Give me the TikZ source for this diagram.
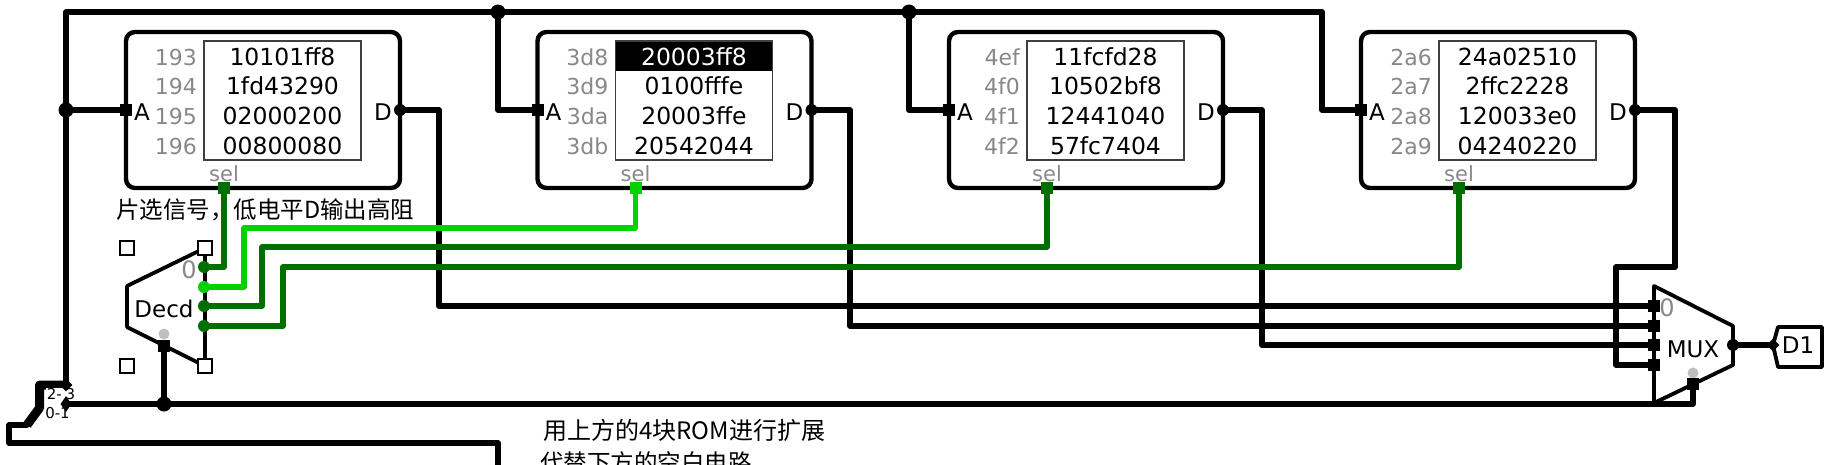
\documentclass[tikz,border=0pt]{standalone}
\usepackage{fontspec}
\setmainfont{DejaVu Sans}
\newfontfamily\cjk{Noto Sans CJK SC}
\usetikzlibrary{shapes.geometric}

\definecolor{lowgreen}{RGB}{0,110,0}
\definecolor{highgreen}{RGB}{0,210,0}
\definecolor{labelgray}{RGB}{136,136,136}

\tikzset{
    wire/.style={draw=black, line width=5.4pt, line join=round, line cap=round},
    fatwire/.style={draw=black, line width=9pt, line join=round},
    selwire/.style={line width=5.4pt, line join=round, line cap=round},
    gate/.style={draw=black, line width=3.8pt, line join=round},
    rombox/.style={draw=black, line width=4.4pt, rounded corners=9pt, outer sep=0pt, minimum width=274pt, minimum height=156pt, anchor=north west},
    membox/.style={draw=black!75, line width=1.4pt, fill=white, minimum width=157pt, minimum height=119pt},
    memval/.style={font=\fontsize{23.5}{25}\selectfont, anchor=base, inner sep=0pt},
    memhot/.style={memval, fill=black, text=white, minimum width=158pt, text height=24pt, text depth=6pt},
    addr/.style={font=\fontsize{22}{25}\selectfont, text=labelgray, anchor=base east, inner sep=0pt},
    pinname/.style={font=\fontsize{23}{25}\selectfont, anchor=base, inner sep=0pt},
    graylabel/.style={font=\fontsize{21}{25}\selectfont, text=labelgray, anchor=base, inner sep=0pt},
    note/.style={font=\cjk\fontsize{23.5}{25}\selectfont, anchor=west, inner sep=0pt},
    portsq/.style={fill, rectangle, inner sep=0pt, minimum size=12pt},
    dotj/.style={fill, circle, inner sep=0pt, minimum size=#1},
    dotj/.default=15pt,
    handle/.style={draw=black, line width=1.8pt, fill=white, rectangle, inner sep=0pt, minimum size=14pt},
    tick/.style={fill=black, diamond, inner sep=0pt, minimum size=13pt},
    small/.style={font=\fontsize{15}{16}\selectfont, inner sep=0pt},
}

\begin{document}
\begin{tikzpicture}[x=1pt, y=-1pt]
    \useasboundingbox (0,0) rectangle (1834,464);

    \foreach \n/\x/\selcol/\rows in {
        1/126/lowgreen/{193/10101ff8/memval,194/1fd43290/memval,195/02000200/memval,196/00800080/memval},
        2/537.5/highgreen/{3d8/20003ff8/memhot,3d9/0100fffe/memval,3da/20003ffe/memval,3db/20542044/memval},
        3/949/lowgreen/{4ef/11fcfd28/memval,4f0/10502bf8/memval,4f1/12441040/memval,4f2/57fc7404/memval},
        4/1361/lowgreen/{2a6/24a02510/memval,2a7/2ffc2228/memval,2a8/120033e0/memval,2a9/04240220/memval}} {
        \node[rombox] (rom\n) at (\x,32) {};
        \node[membox] (rom\n mem) at (\x+156.5,100.5) {};
        \foreach \addr/\val/\look [count=\i] in \rows {
            \node[addr] (rom\n addr\i) at (\x+71,35.3+29.7*\i) {\addr};
            \node[\look] (rom\n val\i) at (\x+156.5,35.3+29.7*\i) {\val};
        }
        \node[membox, fill=none] at (rom\n mem) {};
        \node[portsq] (rom\n A) at (\x,110) {};
        \node[pinname] (rom\n Atext) at (\x+16,120) {A};
        \node[dotj=12pt] (rom\n D) at (\x+274,110) {};
        \node[pinname] (rom\n Dtext) at (\x+257,120) {D};
        \node[graylabel] (rom\n seltext) at (\x+98,181) {sel};
        \node[portsq, fill=\selcol] (rom\n sel) at (\x+98,188) {};
    }

    \node[note] (selnote) at (116,210) {片选信号，低电平D输出高阻};
    \node[note, font=\cjk\fontsize{24}{25}\selectfont] (useline) at (543,430) {用上方的4块ROM进行扩展};
    \node[note] (subline) at (540,463) {代替下方的空白电路};

    \draw[gate] (205,248) -- (127,286) -- (127,327) -- (205,366) -- cycle;
    \node[handle] (decTL) at (127,248) {};
    \node[handle] (decTR) at (205,248) {};
    \node[handle] (decBL) at (127,366) {};
    \node[handle] (decBR) at (205,366) {};
    \node[pinname] (decd) at (164,317) {Decd};
    \node[graylabel, font=\fontsize{24}{25}\selectfont] (dec0) at (189,278) {0};
    \node[dotj=11pt, fill=black!25] (decen) at (164,334) {};
    \node[portsq] (decsel) at (164,346) {};
    \node[dotj=12pt, lowgreen] (out0) at (204,267) {};
    \node[dotj=12pt, highgreen] (out1) at (204,287) {};
    \node[dotj=12pt, lowgreen] (out2) at (204,306) {};
    \node[dotj=12pt, lowgreen] (out3) at (204,326) {};

    \draw[gate] (1654,286) -- (1733,326) -- (1733,365) -- (1654,403) -- cycle;
    \node[portsq] (mux0) at (1654,306) {};
    \node[portsq] (mux1) at (1654,326) {};
    \node[portsq] (mux2) at (1654,345) {};
    \node[portsq] (mux3) at (1654,365) {};
    \node[graylabel, font=\fontsize{24}{25}\selectfont] (mux0text) at (1667,316) {0};
    \node[pinname] (muxname) at (1693,357) {MUX};
    \node[dotj=11pt, fill=black!25] (muxen) at (1693,373) {};
    \node[portsq] (muxsel) at (1693,384) {};
    \node[dotj=12pt] (muxout) at (1733,345) {};

    \draw[gate] (1773,345) -- (1778,327) -- (1822,327) -- (1822,367) -- (1778,367) -- cycle;
    \node[pinname] (d1name) at (1798,353) {D1};
    \node[tick] (pinD1) at (1773,345) {};

    \node[dotj] (jbus) at (66,110) {};
    \node[dotj] (jtopB) at (498,12) {};
    \node[dotj] (jtopC) at (909,12) {};
    \node[dotj] (jsel) at (164,404) {};
    \coordinate (splA) at (66,385);
    \coordinate (splB) at (66,404);
    \coordinate (tail) at (27,425);
    \coordinate (offpage) at (498,470);

    \draw[wire] (splA) -- (66,12) -- (1322,12) |- (rom4A.center);
    \draw[wire] (jbus.center) -- (rom1A.center);
    \draw[wire] (jtopB.center) |- (rom2A.center);
    \draw[wire] (jtopC.center) |- (rom3A.center);

    \draw[wire] (rom1D.center) -| (439,306) -- (mux0.center);
    \draw[wire] (rom2D.center) -| (850,326) -- (mux1.center);
    \draw[wire] (rom3D.center) -| (1262,345) -- (mux2.center);
    \draw[wire] (rom4D.center) -| (1675,267) -| (1616,365) -- (mux3.center);
    \draw[wire] (muxout.center) -- (pinD1.center);

    \draw[wire] (splB) -| (muxsel.center);
    \draw[wire] (decsel.center) -- (jsel.center);

    \draw[selwire, lowgreen] (out0.center) -| (rom1sel.center);
    \draw[selwire, highgreen] (out1.center) -- (244,287) |- (rom2sel.center |- 0,228) -- (rom2sel.center);
    \draw[selwire, lowgreen] (out2.center) -- (262,306) |- (rom3sel.center |- 0,247) -- (rom3sel.center);
    \draw[selwire, lowgreen] (out3.center) -- (283,326) |- (rom4sel.center |- 0,267) -- (rom4sel.center);

    \draw[fatwire] (splA) -- (39.5,385) -- (39.5,408) -- (tail);
    \draw[wire] (tail) -- (9,425) -- (9,443) -| (offpage);

    \node[small, fill=white, inner xsep=1pt] (spl23) at (61,394) {2-\hspace{4pt}3};
    \node[tick] (tickA) at (splA) {};
    \node[tick, minimum height=16pt, minimum width=11pt] (tickB) at (splB) {};
    \node[small] (spl01) at (57.5,413) {0-1};
\end{tikzpicture}
\end{document}
